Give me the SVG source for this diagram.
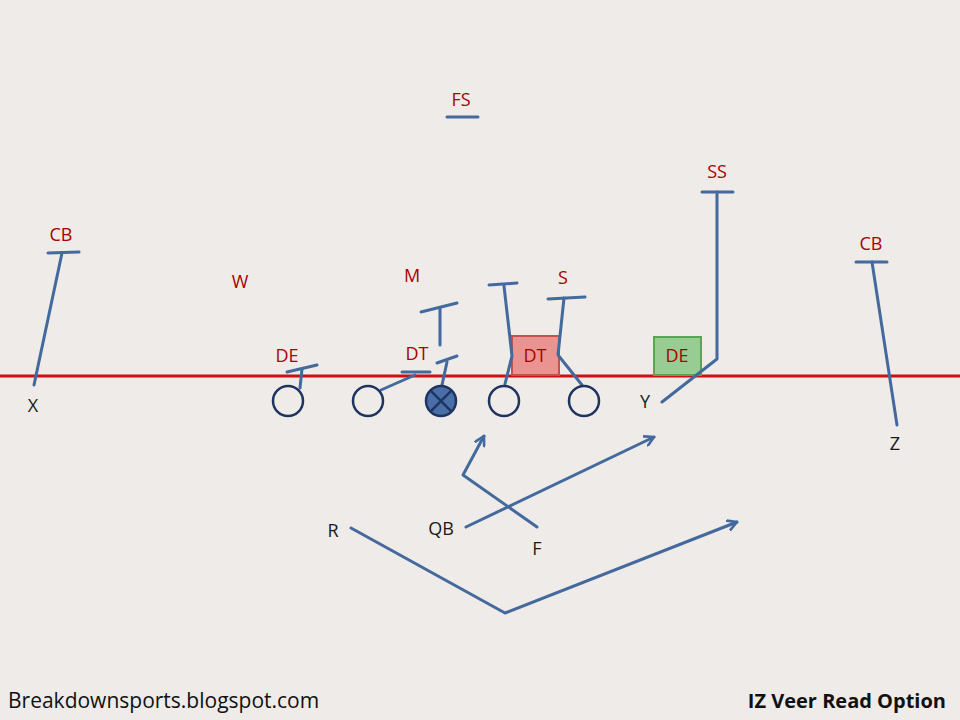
<svg xmlns="http://www.w3.org/2000/svg" width="960" height="720" viewBox="0 0 960 720">
<defs>
<style>
.d{font-family:"Open Sans","Liberation Sans",sans-serif;font-size:18px;fill:#a80000;text-anchor:middle}
.o{font-family:"Open Sans","Liberation Sans",sans-serif;font-size:18px;fill:#1a1a1a;text-anchor:middle}
.r{fill:none;stroke:#44699d;stroke-width:3;stroke-linecap:round;stroke-linejoin:round}
.c{fill:none;stroke:#1f3560;stroke-width:2.5}
.f{font-family:"Open Sans","Liberation Sans",sans-serif;font-size:21px;fill:#111}
.t{font-family:"Open Sans","Liberation Sans",sans-serif;font-size:20px;font-weight:bold;fill:#111;text-anchor:end}
</style>
<marker id="ah" viewBox="0 0 12 12" refX="10" refY="6" markerWidth="12" markerHeight="12" markerUnits="userSpaceOnUse" orient="auto">
<path d="M1,1 L10,6 L1,11" fill="none" stroke="#44699d" stroke-width="2.6" stroke-linecap="round" stroke-linejoin="round"/>
</marker>
</defs>
<rect width="960" height="720" fill="#eeebe8"/>
<line x1="0" y1="376" x2="960" y2="376" stroke="#d01010" stroke-width="3"/>

<g id="dt-box"><rect x="512" y="336" width="47" height="39" fill="#e99491" stroke="#c8504c" stroke-width="2"/><text class="d" x="535" y="362">DT</text></g>
<g id="de-box"><rect x="654" y="337" width="47" height="38" fill="#98cc92" stroke="#5aa555" stroke-width="2"/><text class="d" x="677" y="362">DE</text></g>

<g id="connectors">
<polyline class="r" points="300,388 302,369"/>
<line class="r" x1="287" y1="372" x2="317" y2="365"/>
<polyline class="r" points="381,390 415,375"/>
<line class="r" x1="402" y1="372" x2="430" y2="372"/>
<polyline class="r" points="442,385 447,362"/>
<line class="r" x1="437" y1="363" x2="457" y2="356"/>
<polyline class="r" points="440,345 440,308"/>
<line class="r" x1="421" y1="312" x2="457" y2="303"/>
<polyline class="r" points="505,384 512,356 504,286"/>
<line class="r" x1="489" y1="285" x2="517" y2="283"/>
<polyline class="r" points="582,385 558,355 564,298"/>
<line class="r" x1="548" y1="299" x2="585" y2="297"/>
<polyline class="r" points="662,402 717,359 717,192"/>
<line class="r" x1="702" y1="192" x2="733" y2="192"/>
<polyline class="r" points="34,385 62,253"/>
<line class="r" x1="48" y1="253" x2="79" y2="252"/>
<polyline class="r" points="897,425 872,262"/>
<line class="r" x1="856" y1="262" x2="887" y2="262"/>
<line class="r" x1="447" y1="117" x2="478" y2="117"/>
<polyline class="r" points="537,527 463,475 484,436" marker-end="url(#ah)"/>
<polyline class="r" points="466,527 654,437" marker-end="url(#ah)"/>
<polyline class="r" points="351,528 505,613 737,522" marker-end="url(#ah)"/>
</g>

<g id="ol1"><circle class="c" cx="288" cy="401" r="15"/></g>
<g id="ol2"><circle class="c" cx="368" cy="401" r="15"/></g>
<g id="center"><circle cx="441" cy="401" r="15" fill="#4a6fa8" stroke="#1f3560" stroke-width="2.5"/><path d="M430.4,390.4 L451.6,411.6 M451.6,390.4 L430.4,411.6" stroke="#1f3560" stroke-width="2.5"/></g>
<g id="ol4"><circle class="c" cx="504" cy="401" r="15"/></g>
<g id="ol5"><circle class="c" cx="584" cy="401" r="15"/></g>

<g id="fs"><text class="d" x="461" y="106">FS</text></g>
<g id="ss"><text class="d" x="717" y="178">SS</text></g>
<g id="cb-left"><text class="d" x="61" y="241">CB</text></g>
<g id="cb-right"><text class="d" x="871" y="250">CB</text></g>
<g id="w"><text class="d" x="240" y="288">W</text></g>
<g id="m"><text class="d" x="412" y="282">M</text></g>
<g id="s"><text class="d" x="563" y="284">S</text></g>
<g id="de-left"><text class="d" x="287" y="362">DE</text></g>
<g id="dt-left"><text class="d" x="417" y="360">DT</text></g>

<g id="x"><text class="o" x="33" y="412">X</text></g>
<g id="y"><text class="o" x="645" y="408">Y</text></g>
<g id="z"><text class="o" x="895" y="450">Z</text></g>
<g id="r"><text class="o" x="333" y="537">R</text></g>
<g id="qb"><text class="o" x="441" y="535">QB</text></g>
<g id="f"><text class="o" x="537" y="555">F</text></g>

<text class="f" x="8" y="708">Breakdownsports.blogspot.com</text>
<text class="t" x="946" y="708">IZ Veer Read Option</text>
</svg>
